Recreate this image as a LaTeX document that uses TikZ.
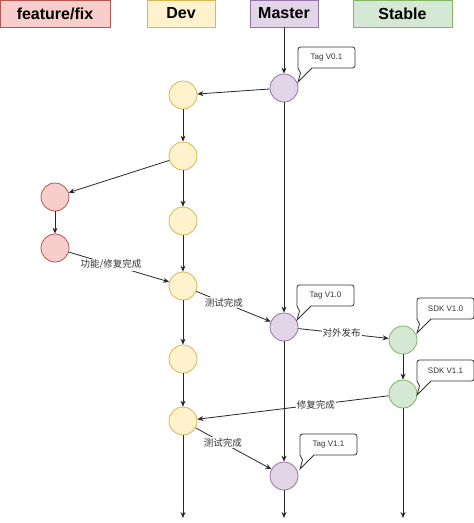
\documentclass[tikz,border=0pt]{standalone}
\usepackage{fontspec}
\setmainfont{Liberation Sans}
\newfontfamily\cjk{Noto Sans CJK SC}
\usetikzlibrary{arrows.meta}
\definecolor{featfill}{HTML}{F8CECC}
\definecolor{featline}{HTML}{B85450}
\definecolor{devfill}{HTML}{FFF2CC}
\definecolor{devline}{HTML}{D6B656}
\definecolor{mastfill}{HTML}{E1D5E7}
\definecolor{mastline}{HTML}{9673A6}
\definecolor{stabfill}{HTML}{D5E8D4}
\definecolor{stabline}{HTML}{82B366}
\tikzstyle{branch}=[draw, line width=0.8pt, minimum height=27pt, inner sep=0pt, font=\bfseries\fontsize{16}{18}\selectfont]
\tikzstyle{commit}=[circle, draw, line width=0.8pt, minimum size=28pt, inner sep=0pt]
\tikzstyle{flow}=[-{Stealth[length=6pt,width=5pt]}, line width=0.8pt, black!85]
\tikzstyle{edgetext}=[fill=white, inner sep=1pt, text=black!80, font=\cjk\fontsize{9.5}{11}\selectfont]
\tikzstyle{notebox}=[draw, line width=0.8pt, black!80, fill=white]
\tikzstyle{notetext}=[font=\fontsize{8}{10}\selectfont, text=black!80]
\newcommand{\tagnote}[3]{%
  \draw[notebox] (#1+14,#2+21) -- (#1,#2+35) -- (#1+2.5,#2+26) -- (#1,#2+21)
    [rounded corners=2.5pt] -- (#1,#2) -- (#1+57,#2) -- (#1+57,#2+21) [sharp corners] -- cycle;
  \node[notetext] at (#1+28.5,#2+10.5) {#3};}

\begin{document}
\begin{tikzpicture}[x=1pt, y=-1pt]
\useasboundingbox (0,0) rectangle (474,523);
% Branch headers
    \node[branch, fill=featfill, draw=featline, minimum width=110pt] (feat) at (55,13.5) {feature/fix};
    \node[branch, fill=devfill, draw=devline, minimum width=68pt] (dev) at (181,13.5) {Dev};
    \node[branch, fill=mastfill, draw=mastline, minimum width=68pt] (mast) at (284,13.5) {Master};
    \node[branch, fill=stabfill, draw=stabline, minimum width=99pt] (stab) at (402.5,13.5) {Stable};
% Commits
    \node[commit, fill=mastfill, draw=mastline] (m1) at (284,88) {};
    \node[commit, fill=mastfill, draw=mastline] (m2) at (284,327) {};
    \node[commit, fill=mastfill, draw=mastline] (m3) at (284,476) {};
    \node[commit, fill=devfill, draw=devline] (d1) at (183,95) {};
    \node[commit, fill=devfill, draw=devline] (d2) at (183,156) {};
    \node[commit, fill=devfill, draw=devline] (d3) at (183,221) {};
    \node[commit, fill=devfill, draw=devline] (d4) at (183,286) {};
    \node[commit, fill=devfill, draw=devline] (d5) at (183,359) {};
    \node[commit, fill=devfill, draw=devline] (d6) at (183,421) {};
    \node[commit, fill=featfill, draw=featline] (f1) at (55,197) {};
    \node[commit, fill=featfill, draw=featline] (f2) at (55,248) {};
    \node[commit, fill=stabfill, draw=stabline] (s1) at (403,340) {};
    \node[commit, fill=stabfill, draw=stabline] (s2) at (403,394) {};
    \coordinate (dend) at (183,518);
    \coordinate (mend) at (284,518);
    \coordinate (send) at (403,518);
% Master line
    \draw[flow] (mast) -- (m1);
    \draw[flow] (m1) -- (m2);
    \draw[flow] (m2) -- (m3);
    \draw[flow] (m3) -- (mend);
% Dev line
    \draw[flow] (m1) -- (d1);
    \draw[flow] (d1) -- (d2);
    \draw[flow] (d2) -- (d3);
    \draw[flow] (d3) -- (d4);
    \draw[flow] (d4) -- (d5);
    \draw[flow] (d5) -- (d6);
    \draw[flow] (d6) -- (dend);
% Feature branch
    \draw[flow] (d2) -- (f1);
    \draw[flow] (f1) -- (f2);
    \draw[flow] (f2) -- node[edgetext, pos=0.42] {功能/修复完成} (d4);
% Releases
    \draw[flow] (d4) -- node[edgetext, pos=0.37] {测试完成} (m2);
    \draw[flow] (m2) -- node[edgetext, pos=0.48] {对外发布} (s1);
    \draw[flow] (s1) -- (s2);
    \draw[flow] (s2) -- (send);
    \draw[flow] (s2) -- node[edgetext, pos=0.38] {修复完成} (d6);
    \draw[flow] (d6) -- node[edgetext, pos=0.36] {测试完成} (m3);
% Tags
    \tagnote{298}{47}{Tag V0.1}
    \tagnote{297}{285}{Tag V1.0}
    \tagnote{417}{298}{SDK V1.0}
    \tagnote{417}{360}{SDK V1.1}
    \tagnote{300}{434}{Tag V1.1}
\end{tikzpicture}
\end{document}
